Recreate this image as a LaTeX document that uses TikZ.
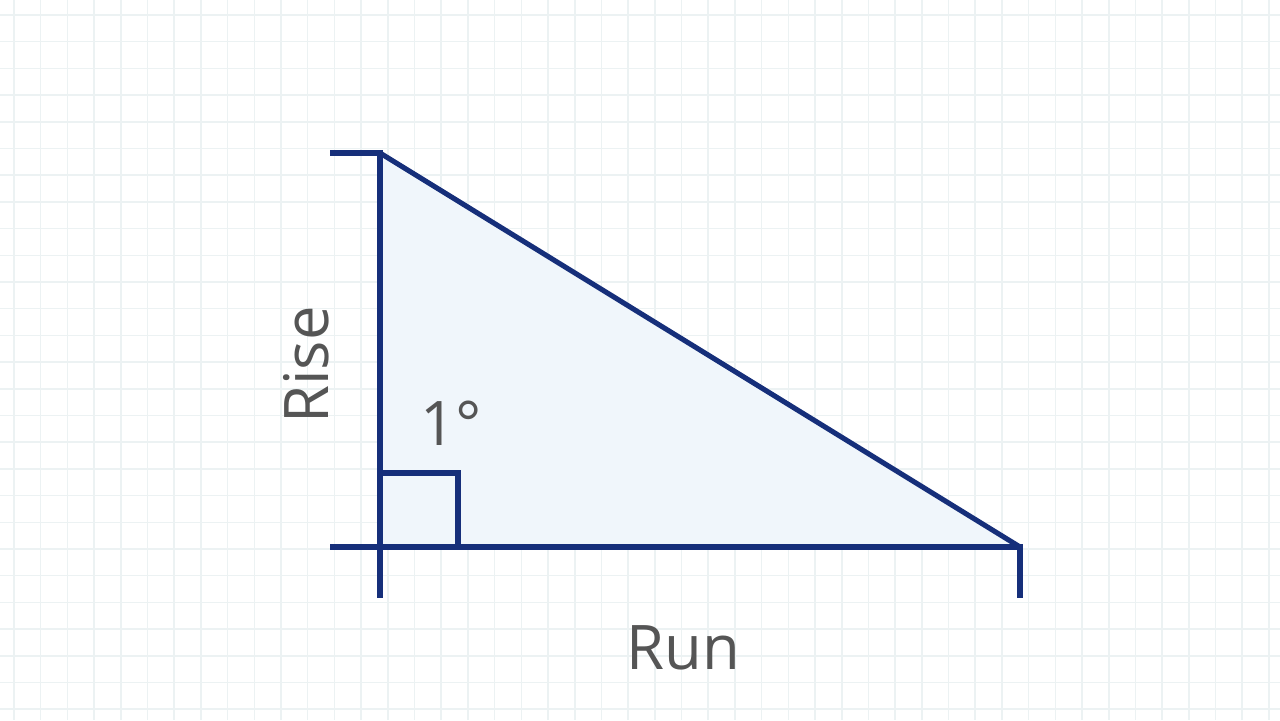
\documentclass[tikz,border=0pt]{standalone}
\usepackage{fontspec}
\setmainfont{Open Sans}
\usetikzlibrary{positioning}
\definecolor{navy}{HTML}{162F7A}
\definecolor{gridc}{HTML}{ECF2F3}
\definecolor{fillc}{HTML}{F0F6FB}
\definecolor{labelc}{HTML}{555555}

\begin{document}
\begin{tikzpicture}[x=0.02cm,y=0.02cm]
\tikzstyle{every node}+=[text=labelc,font=\fontsize{35}{40}\selectfont]
\tikzstyle{leg}=[draw=navy,line width=2.9pt]

\fill[white] (0,0) rectangle (1280,720);
\useasboundingbox (0,0) rectangle (1280,720);

% grid paper
\foreach \i in {0,...,47}
  \draw[gridc,line width=0.9pt] ({14+26.7*\i},0) -- ({14+26.7*\i},720);
\foreach \j in {0,...,26}
  \draw[gridc,line width=0.9pt] (0,{705-26.7*\j}) -- (1280,{705-26.7*\j});

\coordinate (top) at (380,567);
\coordinate (corner) at (380,173);
\coordinate (tip) at (1020,173);
\coordinate (top_end) at (330,567);
\coordinate (base_end) at (330,173);
\coordinate (rise_end) at (380,122);
\coordinate (tip_end) at (1020,122);
\coordinate (sq_a) at (380,247);
\coordinate (sq_b) at (458,247);
\coordinate (sq_c) at (458,173);

\fill[fillc] (top) -- (corner) -- (tip) -- cycle;

\draw[leg] (top_end) -- (top) -- (rise_end);
\draw[leg] (base_end) -- (tip) -- (tip_end);
\draw[leg] (top) -- (tip);
\draw[leg] (sq_a) -- (sq_b) -- (sq_c);

\node (rise) at (306,355) [rotate=90] {Rise};
\node (angle) at (451,297) {1°};
\node (run) at (683,72) {Run};
\end{tikzpicture}
\end{document}
